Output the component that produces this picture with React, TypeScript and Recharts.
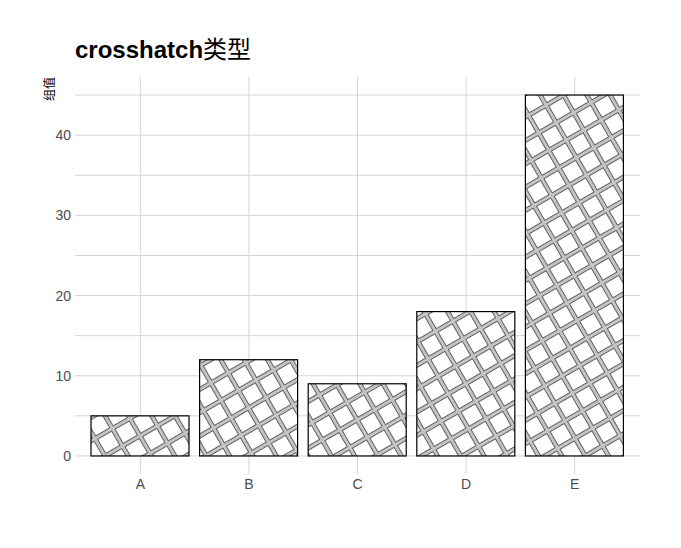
import React from 'react';
import { BarChart, Bar, XAxis, YAxis, CartesianGrid } from 'recharts';

const categories = ['A', 'B', 'C', 'D', 'E'];
const values = [5, 12, 9, 18, 45];
const yTicks = [0, 10, 20, 30, 40];
const gridLines = [0, 5, 10, 15, 20, 25, 30, 35, 40, 45];

const data = categories.map((name, i) => ({ name, value: values[i] }));

const FONT = '"Liberation Sans", Arial, "Noto Sans CJK SC", sans-serif';
const GRID = '#d4d4d4';
const X_PAD = 11;

// crosshatch tile: two perpendicular grey stripes with dark edges, rotated 30deg
const SPACING = 20.2;
const STRIPE = 4.6;
const STRIPE_FILL = 3.2;

const HatchBar = (props: any) => {
  const { x, y, width, height, index } = props;
  if (!height || height <= 0) return null;
  const cx = x + width / 2;
  const cy = y + height / 2;
  const id = `crosshatch-${index}`;
  const mid = SPACING / 2;
  return (
    <g>
      <defs>
        <pattern
          id={id}
          patternUnits="userSpaceOnUse"
          width={SPACING}
          height={SPACING}
          patternTransform={`translate(${cx} ${cy}) rotate(-30) translate(${-mid} ${-mid})`}
        >
          <rect width={SPACING} height={SPACING} fill="#fff" />
          <rect x={mid - STRIPE / 2} y={-1} width={STRIPE} height={SPACING + 2} fill="#333" />
          <rect x={-1} y={mid - STRIPE / 2} width={SPACING + 2} height={STRIPE} fill="#333" />
          <rect x={mid - STRIPE_FILL / 2} y={-1} width={STRIPE_FILL} height={SPACING + 2} fill="#c4c4c4" />
          <rect x={-1} y={mid - STRIPE_FILL / 2} width={SPACING + 2} height={STRIPE_FILL} fill="#c4c4c4" />
        </pattern>
      </defs>
      <rect x={x} y={y} width={width} height={height} fill={`url(#${id})`} stroke="#000" strokeWidth={1.2} />
    </g>
  );
};

// vertical grid lines at the centre of each category band
const bandCentres = ({ offset }: any) => {
  const band = (offset.width - 2 * X_PAD) / categories.length;
  return categories.map((_, i) => offset.left + X_PAD + band * (i + 0.5));
};

export default function App() {
  return (
    <div style={{ position: 'absolute', left: 0, top: 0, width: 681, height: 548, background: '#fff' }}>
      <BarChart
        width={681}
        height={548}
        data={data}
        margin={{ top: 77, right: 41, bottom: 44, left: 35 }}
        barSize={98}
      >
        <CartesianGrid
          stroke={GRID}
          horizontalValues={gridLines}
          verticalCoordinatesGenerator={bandCentres}
        />
        <XAxis
          dataKey="name"
          axisLine={false}
          tickLine={false}
          tickSize={0}
          tickMargin={5}
          height={30}
          interval={0}
          padding={{ left: X_PAD, right: X_PAD }}
          tick={{ fill: '#4d4d4d', fontSize: 14, fontFamily: FONT }}
        />
        <YAxis
          type="number"
          domain={[-2.25, 47.25]}
          ticks={yTicks}
          axisLine={false}
          tickLine={false}
          tickSize={0}
          tickMargin={4}
          width={40}
          tick={{ fill: '#4d4d4d', fontSize: 14, fontFamily: FONT }}
        />
        <Bar dataKey="value" shape={HatchBar} isAnimationActive={false} />
      </BarChart>
      <svg
        width={681}
        height={548}
        style={{ position: 'absolute', left: 0, top: 0, pointerEvents: 'none' }}
      >
        <text x={75} y={58} fontFamily={FONT} fontSize={24} fontWeight="bold" fill="#000">
          crosshatch<tspan fontWeight="normal">类型</tspan>
        </text>
        <text
          x={54}
          y={77}
          transform="rotate(-90 54 77)"
          textAnchor="end"
          fontFamily={FONT}
          fontSize={12}
          fill="#000"
        >
          组值
        </text>
      </svg>
    </div>
  );
}
